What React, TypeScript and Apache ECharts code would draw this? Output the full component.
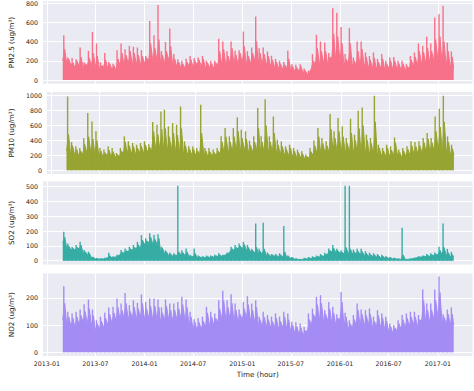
import React, { useEffect, useRef } from 'react';
import * as echarts from 'echarts';

// x tick labels (time axis)
const xTickLabels = ['2013-01', '2013-07', '2014-01', '2014-07', '2015-01', '2015-07', '2016-01', '2016-07', '2017-01'];
const xName = 'Time (hour)';

// y axis names
const yNames = ['PM2.5 (ug/m³)', 'PM10 (ug/m³)', 'SO2 (ug/m³)', 'NO2 (ug/m³)'];

// y tick values per panel
const pm25Ticks = [0, 200, 400, 600, 800];
const pm10Ticks = [0, 200, 400, 600, 800, 1000];
const so2Ticks = [0, 100, 200, 300, 400, 500];
const no2Ticks = [0, 100, 200];

// half-monthly readings, from 2013-03-01 to 2017-02-28 (96 half-months)
// "base" = top of the dense band, "mid" = typical smaller spikes, "peak" = highest spike in that half-month
const pm25Base = [
  200, 170, 150, 120, 140, 130, 150, 140,
  130, 110, 140, 120, 110, 100, 150, 160,
  170, 150, 160, 150, 170, 200, 190, 200,
  180, 170, 200, 150, 140, 130, 120, 140,
  130, 150, 140, 120, 130, 120, 150, 160,
  140, 170, 170, 160, 180, 160, 170, 190,
  170, 160, 150, 140, 130, 120, 110, 120,
  100, 90, 90, 70, 60, 120, 160, 150,
  170, 160, 220, 200, 190, 150, 170, 140,
  150, 140, 130, 120, 120, 110, 120, 110,
  120, 110, 110, 100, 100, 120, 140, 150,
  160, 170, 180, 200, 200, 180, 150, 120,
];
const pm25Mid = [
  320, 220, 180, 200, 240, 170, 230, 280,
  250, 150, 210, 170, 150, 220, 280, 260,
  300, 280, 260, 250, 230, 380, 330, 420,
  260, 300, 350, 220, 190, 170, 190, 210,
  200, 210, 220, 180, 170, 180, 300, 320,
  250, 330, 260, 280, 350, 250, 280, 400,
  280, 270, 250, 210, 190, 170, 160, 220,
  140, 130, 140, 100, 80, 200, 330, 300,
  300, 240, 480, 450, 380, 220, 380, 200,
  300, 320, 240, 210, 230, 190, 220, 170,
  200, 200, 170, 170, 140, 210, 240, 300,
  290, 330, 300, 420, 450, 400, 300, 240,
];
const pm25Peak = [
  466, 235, 230, 217, 338, 185, 304, 500,
  380, 183, 280, 190, 170, 310, 380, 320,
  355, 345, 338, 310, 250, 614, 466, 780,
  300, 397, 535, 270, 217, 200, 220, 250,
  228, 235, 250, 200, 200, 200, 430, 400,
  300, 400, 304, 310, 504, 300, 338, 660,
  331, 338, 297, 252, 220, 200, 190, 304,
  165, 160, 165, 120, 97, 270, 470, 400,
  390, 280, 745, 700, 552, 270, 540, 235,
  400, 400, 286, 250, 286, 220, 270, 200,
  235, 240, 200, 200, 165, 250, 286, 380,
  355, 450, 380, 650, 683, 773, 390, 297,
];

const pm10Base = [
  260, 220, 200, 190, 210, 230, 220, 210,
  190, 180, 190, 180, 170, 180, 220, 230,
  220, 210, 230, 220, 240, 260, 250, 270,
  260, 250, 270, 240, 230, 210, 200, 210,
  200, 210, 190, 180, 190, 200, 220, 230,
  220, 240, 250, 240, 260, 230, 240, 260,
  250, 240, 230, 240, 220, 210, 200, 190,
  180, 170, 170, 150, 160, 200, 230, 220,
  230, 240, 260, 250, 250, 230, 240, 220,
  230, 220, 210, 200, 200, 190, 190, 180,
  180, 190, 180, 170, 180, 200, 210, 220,
  230, 240, 250, 260, 260, 240, 220, 200,
];
const pm10Mid = [
  480, 330, 280, 260, 350, 450, 420, 400,
  260, 240, 270, 250, 210, 260, 380, 330,
  320, 300, 320, 340, 310, 520, 480, 550,
  560, 450, 500, 470, 560, 330, 280, 280,
  260, 500, 260, 250, 240, 260, 380, 450,
  380, 450, 520, 430, 420, 340, 380, 560,
  380, 600, 380, 500, 340, 320, 280, 300,
  260, 240, 220, 190, 250, 330, 450, 360,
  330, 550, 430, 520, 450, 360, 500, 400,
  560, 600, 400, 360, 650, 300, 260, 300,
  270, 370, 240, 260, 280, 330, 320, 330,
  370, 420, 370, 520, 580, 650, 380, 290,
];
const pm10Peak = [
  990, 380, 321, 300, 430, 767, 655, 522,
  299, 280, 321, 299, 232, 300, 455, 388,
  366, 343, 366, 388, 350, 647, 611, 790,
  812, 589, 633, 611, 856, 388, 321, 320,
  299, 879, 299, 299, 277, 300, 455, 566,
  455, 566, 709, 544, 522, 400, 455, 834,
  455, 954, 455, 722, 410, 388, 321, 343,
  300, 277, 254, 210, 299, 400, 566, 433,
  388, 754, 522, 700, 589, 433, 691, 477,
  798, 843, 477, 433, 1000, 343, 299, 343,
  320, 441, 277, 300, 321, 388, 380, 388,
  433, 500, 433, 722, 825, 1000, 455, 343,
];

const so2Base = [
  120, 80, 70, 70, 80, 50, 40, 20,
  12, 10, 12, 20, 18, 25, 40, 50,
  60, 70, 80, 80, 110, 120, 110, 110,
  70, 50, 35, 30, 35, 40, 35, 25,
  25, 20, 20, 20, 22, 25, 30, 30,
  40, 60, 70, 80, 80, 70, 60, 50,
  50, 40, 35, 30, 30, 25, 25, 20,
  15, 10, 8, 8, 12, 15, 20, 25,
  30, 45, 60, 55, 50, 45, 45, 45,
  45, 40, 35, 30, 30, 25, 20, 18,
  15, 12, 10, 8, 8, 10, 15, 20,
  25, 28, 30, 35, 40, 40, 35, 25,
];
const so2Mid = [
  160, 100, 85, 90, 105, 62, 50, 22,
  15, 13, 16, 35, 24, 32, 58, 68,
  80, 90, 108, 140, 135, 160, 145, 150,
  85, 60, 45, 40, 60, 55, 60, 32,
  50, 28, 25, 28, 28, 32, 40, 35,
  48, 80, 90, 100, 110, 90, 70, 90,
  65, 80, 45, 38, 38, 40, 60, 28,
  20, 12, 9, 14, 18, 22, 28, 35,
  42, 68, 85, 68, 60, 90, 80, 60,
  65, 62, 50, 42, 40, 35, 32, 24,
  20, 16, 12, 40, 9, 12, 18, 25,
  30, 36, 40, 45, 70, 90, 55, 42,
];
const so2Peak = [
  196, 117, 95, 106, 128, 72, 61, 27,
  18, 15, 20, 54, 30, 40, 72, 83,
  95, 106, 128, 173, 151, 185, 173, 178,
  95, 70, 55, 50, 506, 70, 83, 40,
  83, 35, 30, 35, 35, 40, 50, 40,
  55, 95, 106, 117, 128, 106, 80, 252,
  80, 256, 55, 45, 45, 50, 234, 35,
  25, 15, 10, 20, 25, 30, 35, 45,
  54, 83, 106, 80, 70, 506, 506, 75,
  80, 80, 65, 55, 50, 45, 40, 30,
  25, 20, 15, 223, 10, 15, 20, 30,
  35, 45, 50, 55, 95, 252, 80, 60,
];

const no2Base = [
  120, 100, 95, 90, 100, 110, 105, 95,
  80, 85, 90, 100, 105, 115, 120, 125,
  120, 125, 120, 125, 120, 125, 115, 120,
  110, 115, 120, 115, 120, 125, 115, 100,
  85, 80, 85, 90, 95, 100, 110, 120,
  115, 120, 115, 110, 120, 125, 115, 110,
  100, 95, 95, 90, 90, 85, 90, 85,
  75, 70, 65, 60, 75, 100, 120, 115,
  110, 115, 110, 100, 120, 95, 85, 90,
  100, 100, 95, 100, 90, 95, 90, 85,
  75, 70, 80, 85, 90, 95, 100, 95,
  115, 110, 110, 120, 125, 110, 105, 100,
];
const no2Mid = [
  180, 130, 125, 130, 135, 150, 160, 135,
  105, 115, 125, 140, 145, 165, 155, 180,
  150, 165, 160, 180, 160, 170, 170, 165,
  145, 170, 155, 155, 160, 175, 165, 130,
  110, 110, 115, 145, 130, 125, 160, 190,
  165, 180, 155, 140, 160, 175, 155, 165,
  120, 130, 120, 115, 125, 115, 130, 120,
  100, 95, 90, 80, 120, 140, 175, 180,
  140, 160, 145, 125, 185, 130, 105, 120,
  155, 140, 135, 140, 115, 135, 125, 115,
  95, 90, 105, 120, 125, 130, 130, 120,
  190, 155, 155, 190, 220, 130, 140, 140,
];
const no2Peak = [
  243, 149, 143, 149, 157, 177, 194, 157,
  118, 131, 145, 165, 167, 198, 179, 218,
  173, 191, 182, 213, 185, 198, 198, 194,
  165, 194, 179, 179, 185, 204, 194, 149,
  121, 125, 131, 167, 149, 143, 191, 226,
  191, 213, 179, 157, 185, 206, 179, 191,
  131, 149, 137, 131, 143, 131, 149, 143,
  112, 110, 106, 94, 143, 160, 204, 210,
  155, 185, 167, 140, 222, 145, 118, 137,
  179, 157, 155, 161, 131, 155, 143, 131,
  106, 100, 118, 137, 143, 149, 149, 137,
  231, 179, 179, 231, 279, 140, 157, 165,
];

const DAY = 86400000;
const binStart = (k: number) => Date.UTC(2013, 2 + Math.floor(k / 2), k % 2 === 0 ? 1 : 16);
const dataEnd = Date.UTC(2017, 1, 28, 23);

const parseTick = (s: string) => {
  const [y, m] = s.split('-').map(Number);
  return Date.UTC(y, m - 1, 1);
};
const fmt = (v: number) => {
  const d = new Date(v);
  const m = d.getUTCMonth() + 1;
  return `${d.getUTCFullYear()}-${m < 10 ? '0' + m : m}`;
};

const COLORS = ['#f77189', '#97a431', '#36ada4', '#a48cf4'];
const FONT = 'DejaVu Sans';
const TXT = '#262626';

export default function App() {
  const ref = useRef<HTMLDivElement>(null);
  useEffect(() => {
    if (!ref.current) return;
    const chart = echarts.init(ref.current, undefined, { renderer: 'svg' });
    const xTicks = xTickLabels.map(parseTick);
    const xMin = Date.UTC(2012, 11, 17);
    const xMax = Date.UTC(2017, 4, 10);

    const panels = [
      { base: pm25Base, mid: pm25Mid, peak: pm25Peak, ticks: pm25Ticks, min: -39, max: 819, top: 1.2, height: 82.6 },
      { base: pm10Base, mid: pm10Mid, peak: pm10Peak, ticks: pm10Ticks, min: -50, max: 1050, top: 92, height: 82 },
      { base: so2Base, mid: so2Mid, peak: so2Peak, ticks: so2Ticks, min: -25.5, max: 535.5, top: 181.4, height: 83.1 },
      { base: no2Base, mid: no2Mid, peak: no2Peak, ticks: no2Ticks, min: -14, max: 290, top: 273.4, height: 82.7 },
    ];

    const grid = panels.map((p) => ({ left: 33, right: 1.5, top: p.top, height: p.height, backgroundColor: '#EAEAF2', show: true, borderWidth: 0 }));

    const xAxis = panels.map((p, i) => ({
      type: 'value',
      gridIndex: i,
      min: xMin,
      max: xMax,
      axisLine: { show: false },
      axisTick: { show: false, customValues: xTicks },
      splitLine: { show: true, lineStyle: { color: '#ffffff', width: 1 } },
      axisLabel: {
        show: i === 3,
        customValues: xTicks,
        formatter: (v: number) => fmt(v),
        fontFamily: FONT,
        fontSize: 6.3,
        color: TXT,
        margin: 4,
      },
      name: i === 3 ? xName : '',
      nameLocation: 'middle',
      nameGap: 15,
      nameTextStyle: { fontFamily: FONT, fontSize: 7.2, color: TXT },
    }));

    const yAxis = panels.map((p, i) => ({
      type: 'value',
      gridIndex: i,
      min: p.min,
      max: p.max,
      axisLine: { show: false },
      axisTick: { show: false, customValues: p.ticks },
      splitLine: { show: true, lineStyle: { color: '#ffffff', width: 1 } },
      axisLabel: { customValues: p.ticks, formatter: (v: number) => String(v), fontFamily: FONT, fontSize: 6.3, color: TXT, margin: 5 },
      name: yNames[i],
      nameLocation: 'middle',
      nameGap: 21,
      nameTextStyle: { fontFamily: FONT, fontSize: 7.2, color: TXT },
    }));

    const series: any[] = [];
    panels.forEach((p, i) => {
      const band: number[][] = [];
      p.base.forEach((v, k) => {
        band.push([binStart(k), v]);
        band.push([binStart(k) + 7.5 * DAY, p.mid[k]]);
      });
      band.push([dataEnd, p.base[p.base.length - 1]]);
      series.push({
        type: 'line',
        xAxisIndex: i,
        yAxisIndex: i,
        data: band,
        symbol: 'none',
        lineStyle: { color: COLORS[i], width: 1 },
        areaStyle: { color: COLORS[i], opacity: 1 },
        z: 2,
      });
      series.push({
        type: 'bar',
        xAxisIndex: i,
        yAxisIndex: i,
        data: p.peak.map((v, k) => [binStart(k) + 4 * DAY, v]),
        barWidth: 1.4,
        itemStyle: { color: COLORS[i] },
        z: 3,
      });
    });

    chart.setOption({
      animation: false,
      backgroundColor: '#ffffff',
      grid,
      xAxis,
      yAxis,
      series,
    });
    return () => chart.dispose();
  }, []);
  return <div ref={ref} style={{ position: 'fixed', left: 0, top: 0, width: 474, height: 391 }} />;
}
